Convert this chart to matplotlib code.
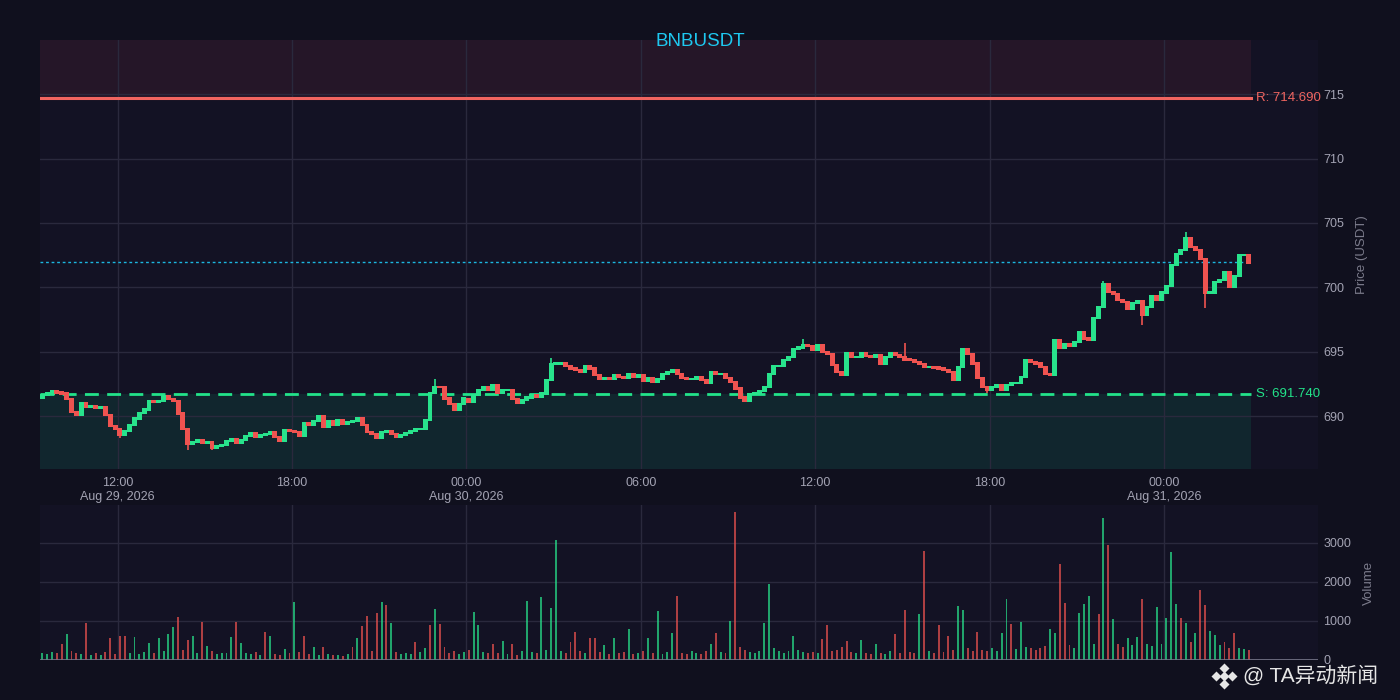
import matplotlib
matplotlib.use("Agg")
import matplotlib.pyplot as plt
import matplotlib.dates as mdates
import numpy as np
import pandas as pd

# 10-minute candles, Aug 29 09:20 -> Aug 31 03:00
first_open = 691.45
closes = [
    691.63, 691.76, 691.97, 691.84, 691.76, 691.30, 690.34, 690.08, 690.99, 690.73,
    690.78, 690.60, 690.73, 690.08, 689.23, 689.04, 688.53, 688.86, 689.30, 689.82,
    690.26, 690.52, 691.19, 691.12, 691.19, 691.56, 691.37, 691.19, 690.21, 689.04,
    687.88, 688.01, 688.14, 687.93, 688.01, 687.57, 687.67, 687.75, 688.09, 688.19,
    687.93, 688.14, 688.45, 688.71, 688.35, 688.53, 688.60, 688.79, 688.40, 688.09,
    688.92, 688.86, 688.79, 688.45, 689.48, 689.30, 689.64, 690.00, 689.17, 689.64,
    689.30, 689.69, 689.38, 689.56, 689.64, 689.82, 689.30, 688.79, 688.60, 688.27,
    688.79, 688.86, 688.60, 688.40, 688.53, 688.71, 688.86, 688.97, 689.04, 689.69,
    691.80, 692.30, 692.28, 691.37, 690.98, 690.47, 690.98, 691.37, 691.11, 691.63,
    692.02, 692.28, 692.02, 692.41, 691.81, 692.02, 692.02, 691.37, 691.03, 691.24,
    691.45, 691.63, 691.50, 691.76, 692.79, 694.04, 694.09, 694.14, 693.88, 693.70,
    693.62, 693.44, 693.88, 693.70, 693.18, 692.92, 693.00, 692.85, 693.18, 693.05,
    693.00, 693.31, 693.05, 693.18, 692.74, 693.00, 692.67, 692.92, 693.31, 693.44,
    693.57, 693.31, 693.00, 692.92, 692.92, 693.05, 692.79, 692.54, 693.44, 693.31,
    693.31, 693.00, 692.67, 692.15, 691.45, 691.19, 691.71, 691.81, 691.97, 692.28,
    693.31, 693.88, 693.88, 694.35, 694.61, 695.25, 695.33, 695.51, 695.43, 695.12,
    695.51, 694.99, 694.86, 693.96, 693.44, 693.19, 694.87, 694.61, 694.61, 694.87,
    694.66, 694.61, 694.74, 694.09, 694.61, 694.87, 694.74, 694.61, 694.40, 694.35,
    694.22, 694.04, 693.83, 693.83, 693.78, 693.70, 693.57, 693.44, 692.80, 693.83,
    695.18, 694.82, 694.09, 692.93, 692.28, 692.07, 692.23, 692.41, 692.07, 692.41,
    692.54, 692.54, 693.05, 694.35, 694.22, 694.09, 693.83, 693.26, 693.19, 695.90,
    695.26, 695.59, 695.44, 695.77, 696.55, 696.03, 695.90, 697.59, 698.49, 700.25,
    699.66, 699.47, 699.01, 698.88, 698.36, 698.75, 698.96, 697.84, 698.49, 699.30,
    699.00, 699.60, 700.10, 701.70, 702.60, 702.90, 703.80, 703.10, 702.90, 702.20,
    699.60, 699.60, 700.40, 700.60, 701.20, 700.00, 700.90, 702.50, 702.50, 701.90,
]

# visible wicks: index -> (low, high)
wicks = {
    16: (688.30, None), 30: (687.40, None), 35: (687.40, None), 81: (None, 692.90),
    105: (None, 694.50), 157: (None, 696.00), 178: (None, 695.70), 190: (None, 695.30),
    195: (691.80, None), 209: (None, 696.00), 219: (None, 700.50), 227: (697.10, None),
    236: (None, 704.30), 240: (698.40, None),
}

volumes = [
    180, 150, 210, 170, 410, 667, 230, 190, 160, 957,
    140, 170, 120, 200, 555, 150, 615, 615, 180, 600,
    160, 210, 444, 190, 573, 240, 667, 855, 1094, 260,
    513, 615, 180, 966, 368, 220, 150, 190, 170, 598,
    966, 427, 180, 150, 210, 130, 726, 624, 160, 140,
    270, 170, 1487, 200, 615, 160, 342, 130, 342, 150,
    120, 140, 110, 160, 324, 555, 872, 1128, 230, 1197,
    1487, 1402, 940, 200, 150, 180, 160, 453, 210, 316,
    897, 1299, 923, 342, 180, 230, 150, 200, 260, 1231,
    897, 210, 170, 410, 190, 496, 160, 400, 140, 230,
    1521, 200, 180, 1624, 260, 1325, 3077, 240, 190, 453,
    726, 230, 180, 564, 564, 200, 376, 160, 573, 190,
    210, 786, 150, 170, 230, 564, 190, 1265, 160, 200,
    700, 1632, 180, 150, 220, 190, 160, 230, 410, 684,
    200, 180, 1008, 3778, 330, 260, 210, 190, 240, 940,
    1949, 300, 220, 180, 240, 615, 250, 200, 170, 210,
    190, 530, 897, 220, 260, 342, 496, 200, 180, 513,
    170, 150, 410, 190, 160, 220, 667, 180, 1282, 200,
    170, 1180, 2803, 240, 190, 897, 210, 615, 250, 1385,
    1282, 300, 220, 709, 260, 240, 300, 220, 684, 1573,
    923, 280, 966, 340, 300, 260, 320, 360, 786, 684,
    2462, 1470, 380, 300, 1214, 1427, 1641, 420, 1180, 3632,
    2949, 1043, 400, 340, 555, 380, 598, 1564, 420, 360,
    1350, 400, 1068, 2778, 1436, 1068, 957, 450, 684, 1795,
    1410, 744, 641, 380, 450, 320, 684, 300, 280, 250,
]

# colour of the tall volume spikes as seen in the picture
vol_green_idx = [5, 19, 24, 26, 27, 31, 39, 47, 52, 65, 70, 72, 81, 89, 90, 95, 100, 103,
                 105, 106, 116, 118, 121, 125, 127, 130, 138, 142, 149, 150, 155, 169, 172,
                 181, 189, 190, 198, 199, 202, 208, 209, 214, 215, 216, 219, 221, 224, 226,
                 230, 232, 233, 234, 236, 238, 241, 242]
vol_red_idx = [9, 14, 16, 17, 28, 30, 33, 40, 46, 54, 64, 66, 67, 69, 71, 77, 80, 82, 83,
               93, 97, 109, 110, 113, 114, 131, 139, 143, 161, 162, 166, 176, 178, 182, 185,
               187, 193, 200, 210, 211, 218, 220, 227, 235, 239, 240, 244, 246]

resistance = 714.69
support = 691.74
last_price = 701.93
symbol = "BNBUSDT"

tick_times = ["2026-08-29 12:00", "2026-08-29 18:00", "2026-08-30 00:00", "2026-08-30 06:00",
              "2026-08-30 12:00", "2026-08-30 18:00", "2026-08-31 00:00"]
tick_labels = ["12:00\nAug 29, 2026", "18:00", "00:00\nAug 30, 2026", "06:00",
               "12:00", "18:00", "00:00\nAug 31, 2026"]

# ---- colours
BG = "#10101e"
PLOT_BG = "#131224"
GRID = "#2a293d"
TXT = "#a3a3b3"
UP = "#28e38c"
DOWN = "#ef5350"

plt.rcParams["font.family"] = ["Liberation Sans", "Noto Sans CJK SC", "DejaVu Sans"]

times = pd.date_range("2026-08-29 09:25", periods=len(closes), freq="10min")
x = mdates.date2num(times)
w = 10 / 1440

opens = [first_open] + closes[:-1]
up = [c >= o for o, c in zip(opens, closes)]
colors = [UP if u else DOWN for u in up]
bottoms = [min(o, c) - 0.08 for o, c in zip(opens, closes)]
heights = [abs(c - o) + 0.16 for o, c in zip(opens, closes)]
lows = [min(o, c) for o, c in zip(opens, closes)]
highs = [max(o, c) for o, c in zip(opens, closes)]
for i, (lo, hi) in wicks.items():
    if lo is not None:
        lows[i] = lo
    if hi is not None:
        highs[i] = hi

vcolors = list(colors)
for i in vol_green_idx:
    vcolors[i] = UP
for i in vol_red_idx:
    vcolors[i] = DOWN

fig = plt.figure(figsize=(14, 7), dpi=100, facecolor=BG)
ax = fig.add_axes([40 / 1400, 1 - 469 / 700, 1278 / 1400, 429 / 700], facecolor=PLOT_BG)
axv = fig.add_axes([40 / 1400, 1 - 660 / 700, 1278 / 1400, 155 / 700], facecolor=PLOT_BG, sharex=ax)

t_start = mdates.date2num(pd.Timestamp("2026-08-29 09:20"))
t_end = mdates.date2num(pd.Timestamp("2026-08-31 03:00"))
x_right = mdates.date2num(pd.Timestamp("2026-08-31 05:18"))
ymin, ymax = 685.9, 719.2

# zones
ax.fill_between([t_start, t_end], resistance, ymax, color="#ff5060", alpha=0.08, lw=0, zorder=0.2)
ax.fill_between([t_start, t_end], ymin, support, color="#00e08a", alpha=0.10, lw=0, zorder=0.2)
ax.plot([t_start, t_end], [resistance, resistance], color="#f06560", lw=2.2, zorder=3)
ax.plot([t_start, t_end], [support, support], color="#22e38a", lw=2, ls=(0, (5, 3)), zorder=3)
ax.plot([t_start, t_end], [last_price, last_price], color="#1cb6e0", lw=1, ls=(0, (2, 2)), zorder=3)
ax.text(t_end + 0.007, resistance, f"R: {resistance:.3f}", color="#f06560", fontsize=9.5,
        va="center", ha="left")
ax.text(t_end + 0.007, support, f"S: {support:.3f}", color="#22e38a", fontsize=9.5,
        va="center", ha="left")

# candles
ax.vlines(x, lows, highs, colors=colors, lw=1.2, zorder=4)
ax.bar(x, heights, bottom=bottoms, width=w * 1.02, color=colors, lw=0, zorder=4)

# volume
axv.bar(x, volumes, width=w * 0.4, color=vcolors, alpha=0.7, lw=0, zorder=3)
axv.axhline(0, color="#77778a", lw=1.2, zorder=4)

for a in (ax, axv):
    for s in a.spines.values():
        s.set_visible(False)
    a.grid(True, color=GRID, lw=1)
    a.set_axisbelow(True)
    a.yaxis.tick_right()
    a.yaxis.set_label_position("right")
    a.tick_params(colors=TXT, labelsize=9, length=0)

ax.set_xlim(t_start, x_right)
ax.set_ylim(ymin, ymax)
ax.set_yticks([690, 695, 700, 705, 710, 715])
ax.set_xticks(mdates.date2num(pd.to_datetime(tick_times)))
ax.set_xticklabels(tick_labels)
ax.tick_params(axis="x", pad=6)
ax.tick_params(axis="y", pad=4)
ax.set_ylabel("Price (USDT)", color="#7c7c8c", fontsize=9.5, labelpad=8)

axv.set_ylim(0, 3970)
axv.set_yticks([0, 1000, 2000, 3000])
axv.tick_params(axis="x", labelbottom=False)
axv.tick_params(axis="y", pad=4)
axv.set_ylabel("Volume", color="#7c7c8c", fontsize=9.5, labelpad=8)

fig.text(0.5, 1 - 42 / 700, symbol, color="#1ec8f0", fontsize=13.5, ha="center", va="center")

# watermark
wm = fig.add_axes([0, 0, 1, 1], facecolor="none")
wm.set_xlim(0, 1400)
wm.set_ylim(700, 0)
wm.axis("off")
lx, ly = 1224, 676
wm.scatter([lx, lx - 8, lx + 8, lx, lx], [ly, ly, ly, ly - 8, ly + 8], marker="D", s=26,
           color="#e6e6e6", lw=0)
wm.text(1243, 675, "@ TA异动新闻", color="#e6e6e6", fontsize=15, va="center", ha="left",
        family=["Liberation Sans", "Noto Sans CJK SC"])

fig.savefig("out.png", dpi=100, facecolor=BG)
